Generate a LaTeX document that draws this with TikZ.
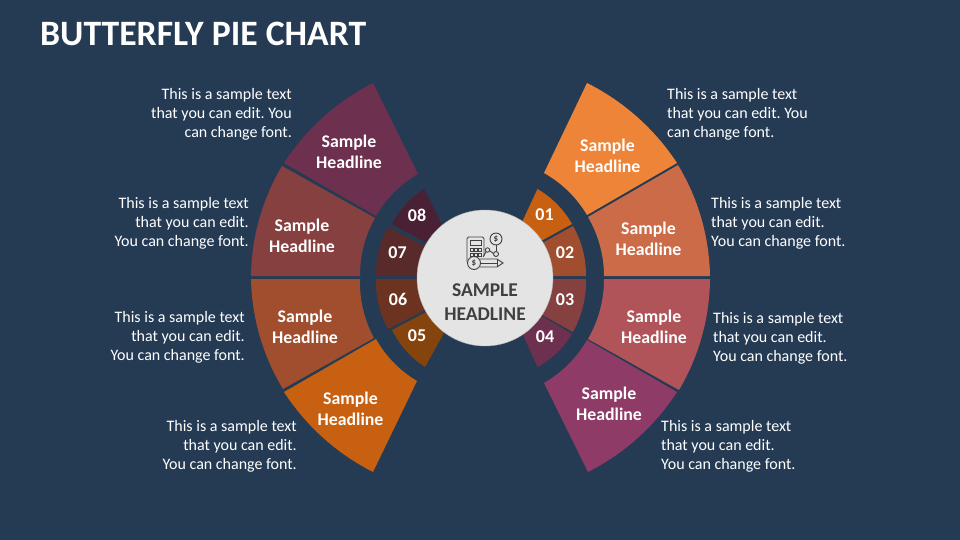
\documentclass[tikz,border=0pt]{standalone}
\usepackage{fontspec}
\setmainfont{Carlito}
\usepackage{xcolor}
\definecolor{mybg}{HTML}{253B54}
\definecolor{mygray}{HTML}{404040}
\definecolor{mycircle}{HTML}{E4E4E4}
\definecolor{righta}{HTML}{EE8438}
\definecolor{rightb}{HTML}{CC6B47}
\definecolor{rightc}{HTML}{B05459}
\definecolor{rightd}{HTML}{8E3B67}
\definecolor{lefta}{HTML}{6E304F}
\definecolor{leftb}{HTML}{85403F}
\definecolor{leftc}{HTML}{A04E2E}
\definecolor{leftd}{HTML}{C86011}
\definecolor{smalla}{HTML}{C86011}
\definecolor{smallb}{HTML}{A04E2E}
\definecolor{smallc}{HTML}{85403F}
\definecolor{smalld}{HTML}{6E304F}
\definecolor{smalle}{HTML}{85430E}
\definecolor{smallf}{HTML}{6C3320}
\definecolor{smallg}{HTML}{592A2A}
\definecolor{smallh}{HTML}{4A2035}
\tikzset{
  cw/.style={bend left=15,looseness=.87},
  ccw/.style={bend right=15,looseness=.87},
  bodytext/.style={text=white,font=\fontsize{16}{19}\selectfont\frenchspacing,inner sep=0pt},
  headtext/.style={text=white,font=\fontsize{17.8}{21}\selectfont\bfseries,align=center,inner sep=0pt},
  numtext/.style={text=white,font=\fontsize{18}{20}\selectfont\bfseries,inner sep=0pt},
  icon/.style={draw=mygray,line width=.9pt}
}
\begin{document}
\begin{tikzpicture}[x=1pt,y=-1pt]
      \useasboundingbox (0,0) rectangle (960,540);
      \fill[mybg] (0,0) rectangle (960,540);
      \node[text=white,font=\fontsize{35.7}{40}\selectfont\bfseries,anchor=west,inner sep=0pt] (title) at (40,34) {BUTTERFLY PIE CHART};

      % Right wing
      \fill[righta] (587,83) to[cw] (677,163) -- (587,215) to[ccw] (544,173) -- cycle;
      \fill[rightb] (678,165) to[cw] (710,276) -- (604,276) to[ccw] (588,217) -- cycle;
      \fill[rightc] (710,279) to[cw] (679,390) -- (588,339) to[ccw] (604,279) -- cycle;
      \fill[rightd] (677,392) to[cw] (588,472) -- (544,383) to[ccw] (587,340) -- cycle;

      % Left wing
      \fill[lefta] (373,83) to[ccw] (284,163) -- (376,216) to[cw] (418,174) -- cycle;
      \fill[leftb] (282,166) to[ccw] (251,276) -- (360,276) to[cw] (375,218) -- cycle;
      \fill[leftc] (251,279) to[ccw] (283,389) -- (374,338) to[cw] (360,279) -- cycle;
      \fill[leftd] (284,392) to[ccw] (373,472) -- (417,381) to[cw] (376,339) -- cycle;

      % Small wedges
      \fill[smalla] (537.5,189) to[cw] (572,224) -- (510,258) -- (509,250) -- cycle;
      \fill[smallb] (573,226) to[cw] (586,276) -- (500,276) -- (510,261) -- cycle;
      \fill[smallc] (586,279) to[cw] (573,332) -- (510,297) -- (500,279) -- cycle;
      \fill[smalld] (572,334) to[cw] (537.5,367) -- (510,306) -- (515,300) -- cycle;
      \fill[smalle] (425,367) to[cw] (392,330) -- (455,297) -- (459,306) -- cycle;
      \fill[smallf] (388,329) to[cw] (376,279) -- (470,279) -- (455,295) -- cycle;
      \fill[smallg] (376,276) to[cw] (388,227) -- (455,262) -- (470,276) -- cycle;
      \fill[smallh] (392,224) to[cw] (424,189) -- (459,258) -- (455,259) -- cycle;

      % Centre
      \node[circle,fill=mycircle,draw=gray!60,line width=.4pt,minimum size=136pt,inner sep=0pt] (hub) at (485,278) {};
      \node[text=mygray,font=\fontsize{19.5}{24}\selectfont\bfseries,align=center,inner sep=0pt] (hubtext) at (485,302) {SAMPLE\\HEADLINE};

      % Icon
      \draw[icon,rounded corners=1.5pt] (467,262) -- (467,237) -- (484,237) -- (484,256);
      \draw[icon] (470,240) rectangle (481,245);
      \draw[icon] (470,248) rectangle (473,251) (474,248) rectangle (477,251) (478,248) rectangle (481,251);
      \draw[icon] (470,253) rectangle (473,256) (474,253) rectangle (477,256) (478,253) rectangle (481,256);
      \draw[icon] (496,239) circle [radius=6pt];
      \node[text=mygray,font=\fontsize{9}{9}\selectfont\bfseries,inner sep=0pt] (dollarb) at (496,239) {\$};
      \draw[icon] (496,245) -- (496,251);
      \draw[icon] (496,254) circle [radius=2.5pt];
      \draw[icon] (493.5,253.5) -- (490,251);
      \draw[icon] (487.5,250) circle [radius=2.2pt];
      \draw[icon] (486,252) -- (483,257);
      \draw[icon] (480,259) -- (497,259) -- (503,263) -- (497,267) -- (480,267);
      \draw[icon] (497,259) -- (497,267) (481,263) -- (497,263);
      \draw[icon,fill=mycircle] (474,263) circle [radius=6.5pt];
      \node[text=mygray,font=\fontsize{9}{9}\selectfont\bfseries,inner sep=0pt] (dollara) at (474,263) {\$};

      % Headlines
      \node[headtext] (heada) at (607.5,156) {Sample\\Headline};
      \node[headtext] (headb) at (648.5,238.5) {Sample\\Headline};
      \node[headtext] (headc) at (654,327) {Sample\\Headline};
      \node[headtext] (headd) at (609,404) {Sample\\Headline};
      \node[headtext] (heade) at (350.5,409) {Sample\\Headline};
      \node[headtext] (headf) at (305,327) {Sample\\Headline};
      \node[headtext] (headg) at (302,236) {Sample\\Headline};
      \node[headtext] (headh) at (349,152) {Sample\\Headline};

      % Numbers
      \node[numtext] (numa) at (544.5,215) {01};
      \node[numtext] (numb) at (565,253) {02};
      \node[numtext] (numc) at (565,300) {03};
      \node[numtext] (numd) at (545,337) {04};
      \node[numtext] (nume) at (417,336) {05};
      \node[numtext] (numf) at (398,299) {06};
      \node[numtext] (numg) at (397.5,253) {07};
      \node[numtext] (numh) at (417,215) {08};

      % Side texts
      \node[bodytext,anchor=west,align=left] (texta) at (667,114) {This is a sample text\\that you can edit. You\\can change font.};
      \node[bodytext,anchor=west,align=left] (textb) at (711,223) {This is a sample text\\that you can edit.\\You can change font.};
      \node[bodytext,anchor=west,align=left] (textc) at (713,338) {This is a sample text\\that you can edit.\\You can change font.};
      \node[bodytext,anchor=west,align=left] (textd) at (661,446) {This is a sample text\\that you can edit.\\You can change font.};
      \node[bodytext,anchor=east,align=right] (texte) at (297,446) {This is a sample text\\that you can edit.\\You can change font.};
      \node[bodytext,anchor=east,align=right] (textf) at (245,337) {This is a sample text\\that you can edit.\\You can change font.};
      \node[bodytext,anchor=east,align=right] (textg) at (249,223) {This is a sample text\\that you can edit.\\You can change font.};
      \node[bodytext,anchor=east,align=right] (texth) at (292,114) {This is a sample text\\that you can edit. You\\can change font.};
\end{tikzpicture}
\end{document}
